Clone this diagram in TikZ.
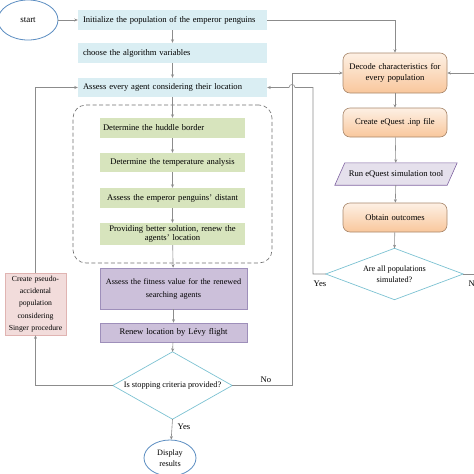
\documentclass[tikz,border=0pt]{standalone}
\usepackage{fontspec}
\setmainfont{Liberation Serif}
\usetikzlibrary{arrows.meta,shapes.geometric}
\definecolor{linegray}{HTML}{8C8C8C}
\definecolor{bluefill}{HTML}{DAEEF3}
\definecolor{greenfill}{HTML}{D7E4BD}
\definecolor{purplefill}{HTML}{CCC0DA}
\definecolor{purpleline}{HTML}{9E8FBA}
\definecolor{pinkfill}{HTML}{F2DCDB}
\definecolor{pinkline}{HTML}{E0B4B2}
\definecolor{orangetop}{HTML}{FDF0E4}
\definecolor{orangebot}{HTML}{F9C79C}
\definecolor{orangeline}{HTML}{A8876B}
\definecolor{parafill}{HTML}{E5E0EC}
\definecolor{paraline}{HTML}{8064A2}
\definecolor{diamline}{HTML}{7CC2D2}
\definecolor{ellline}{HTML}{5B8DC1}
\definecolor{dashgray}{HTML}{6E6E6E}
\begin{document}
\begin{tikzpicture}[x=1pt,y=-1pt,
  font=\fontsize{8.6}{10}\selectfont,
  line/.style={draw=linegray,line width=0.6pt},
  arr/.style={line,-{Stealth[length=3.5pt,width=3pt]}},
  bluebox/.style={rectangle,fill=bluefill,minimum width=189pt,minimum height=20pt,
    inner xsep=5pt,inner ysep=0pt,text width=179pt,align=left},
  greenbox/.style={rectangle,fill=greenfill,minimum width=145pt,minimum height=20pt,
    inner xsep=3pt,inner ysep=0pt,text width=139pt,align=center},
  purplebox/.style={rectangle,fill=purplefill,draw=purpleline,line width=0.6pt,
    minimum width=147pt,inner xsep=1pt,inner ysep=0pt,text width=145pt,align=center},
  orangebox/.style={rectangle,rounded corners=7pt,draw=orangeline,line width=0.6pt,
    top color=orangetop,bottom color=orangebot,minimum width=104pt,
    inner xsep=3pt,inner ysep=0pt,text width=98pt,align=center},
  pinkbox/.style={rectangle,fill=pinkfill,draw=pinkline,line width=0.6pt,
    minimum width=61pt,minimum height=62pt,inner xsep=1pt,inner ysep=0pt,
    text width=59pt,align=center,font=\fontsize{7.7}{12.4}\selectfont},
  ovalnode/.style={ellipse,draw=ellline,line width=0.8pt,fill=white,inner sep=0pt,align=center},
  diamstyle/.style={draw=diamline,line width=0.7pt},
  lbl/.style={inner sep=0pt}
]
\useasboundingbox (0,0) rectangle (474,474);
\clip (0,0) rectangle (474,474);

% dashed group
\node[draw=dashgray,dashed,dash pattern=on 4pt off 2.5pt,line width=0.6pt,rounded corners=13pt,
  minimum width=199pt,minimum height=158pt] (group) at (172.5,184) {};

% left column
\node[ovalnode,minimum width=60pt,minimum height=40pt,font=\fontsize{9}{10}\selectfont] (start) at (28,20) {start};
\node[bluebox] (init) at (172.5,20) {Initialize the population of the emperor penguins};
\node[bluebox] (choose) at (172.5,53) {choose the algorithm variables};
\node[bluebox,minimum height=19pt] (assess) at (172.5,87.5) {Assess every agent considering their location};
\node[greenbox,align=left] (huddle) at (172.5,128) {Determine the huddle border};
\node[greenbox,minimum height=19pt] (temp) at (172.5,162.5) {Determine the temperature analysis};
\node[greenbox] (distant) at (172.5,198) {Assess the emperor penguins' distant};
\node[greenbox,minimum height=22pt,font=\fontsize{8.6}{9.2}\selectfont] (provide) at (172.5,234) {Providing better solution, renew the\\agents' location};
\node[purplebox,minimum height=41pt,font=\fontsize{8.2}{13}\selectfont] (fitness) at (173.5,288.5) {Assess the fitness value for the renewed\\searching agents};
\node[purplebox,minimum height=19pt] (renew) at (173.5,332.5) {Renew location by Lévy flight};
\node[pinkbox] (pseudo) at (35.5,304) {Create pseudo-\\accidental\\population\\considering\\Singer procedure};
\node[minimum width=119pt,minimum height=67pt,inner sep=0pt,font=\fontsize{8.3}{10}\selectfont] (diam1) at (172.5,385.5) {Is stopping criteria provided?};
\draw[diamstyle] (diam1.north) -- (diam1.east) -- (diam1.south) -- (diam1.west) -- cycle;
\node[ovalnode,minimum width=52pt,minimum height=36pt,font=\fontsize{8.2}{11}\selectfont] (display) at (170,458) {Display\\results};

% right column
\node[orangebox,minimum height=40pt,font=\fontsize{8.6}{11.5}\selectfont] (decode) at (395,73) {Decode characteristics for\\every population};
\node[orangebox,minimum height=29pt] (create) at (395,122.5) {Create eQuest .inp file};
\node[minimum width=112pt,minimum height=22pt,inner sep=0pt] (run) at (396,174) {};
\draw[draw=paraline,line width=0.6pt,fill=parafill]
  ([xshift=5pt]run.north west) -- ([xshift=5pt]run.north east) --
  ([xshift=-5pt]run.south east) -- ([xshift=-5pt]run.south west) -- cycle;
\node[minimum width=112pt,minimum height=22pt,inner sep=0pt] (runtext) at (run) {Run eQuest simulation tool};
\node[orangebox,minimum height=29pt] (obtain) at (395,217.5) {Obtain outcomes};
\node[minimum width=137pt,minimum height=51pt,inner sep=0pt,align=center,font=\fontsize{8.2}{10.5}\selectfont] (diam2) at (394.5,274) {Are all populations\\simulated?};
\draw[diamstyle] (diam2.north) -- (diam2.east) -- (diam2.south) -- (diam2.west) -- cycle;

% connectors main column
\draw[arr] (start) -- (init);
\draw[arr] (init.east) -| (decode.north);
\draw[arr] (init) -- (choose);
\draw[arr] (choose) -- (assess);
\draw[arr] (assess) -- (huddle);
\draw[arr] (huddle) -- (temp);
\draw[arr] (temp) -- (distant);
\draw[arr] (distant) -- (provide);
\draw[arr] (provide) -- (fitness);
\draw[arr] (fitness) -- (renew);
\draw[arr] (renew) -- (diam1.north);
\draw[arr] (diam1.south) -- (display);

% left loop
\draw[arr] (diam1.west) -| (pseudo.south);
\draw[arr] (pseudo.north) |- (assess.west);

% stopping "No" to decode
\coordinate (nojoin) at (292,73);
\draw[arr] (diam1.east) -| (nojoin) -- (decode.west);

% right column
\draw[arr] (decode) -- (create);
\draw[arr] (create) -- (runtext);
\draw[arr] (runtext) -- (obtain);
\draw[arr] (obtain) -- (diam2.north);

% populations "Yes" back to assess (with hop)
\coordinate (yesjoin) at (313,87.5);
\coordinate (hopR) at (295,87.5);
\coordinate (hopL) at (289,87.5);
\draw[arr] (diam2.west) -| (yesjoin) -- (hopR) .. controls (295,83.5) and (289,83.5) .. (hopL) -- (assess.east);

% populations "No" around the right edge
\coordinate (rightedge) at (484,73);
\draw[arr] (diam2.east) -| (rightedge) -- (decode.east);

% labels
\node[lbl] (yes2) at (320,284) {Yes};
\node[lbl] (no2) at (474,284) {No};
\node[lbl] (no1) at (266,380) {No};
\node[lbl] (yes1) at (184,427) {Yes};
\end{tikzpicture}
\end{document}
